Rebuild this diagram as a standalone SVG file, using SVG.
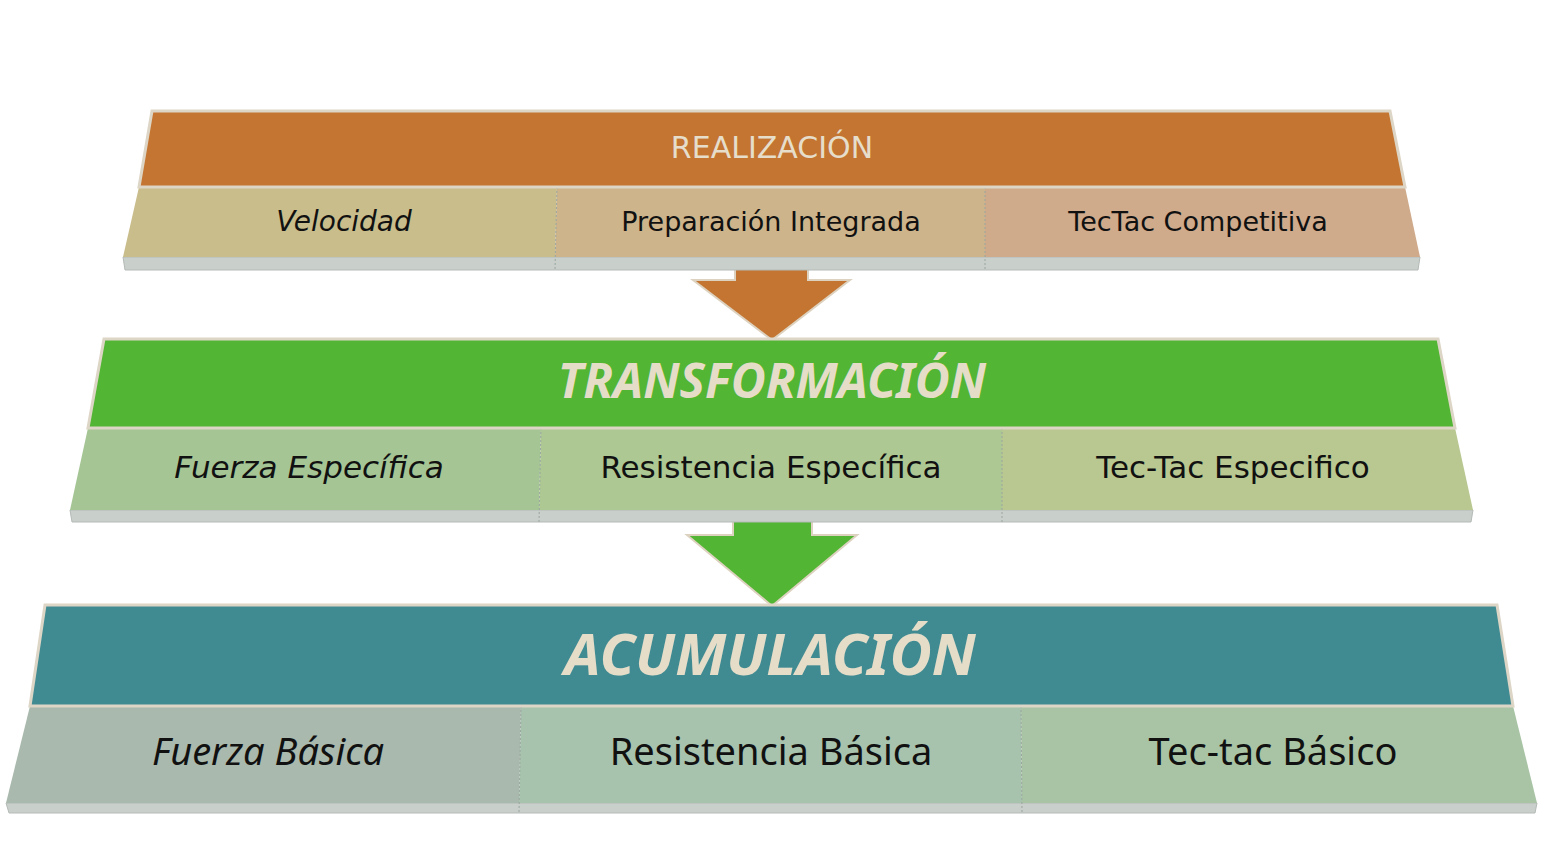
<svg xmlns="http://www.w3.org/2000/svg" width="1543" height="844" viewBox="0 0 1543 844">
<style>
.edge{fill:#c9cfcb;stroke:#b4bab6;stroke-width:1}
.div{stroke:#9aa6a0;stroke-width:1;stroke-dasharray:2 2}
.t{font-family:"DejaVu Sans",sans-serif;fill:#111;text-anchor:middle}
.b{font-family:"Noto Sans","Open Sans",sans-serif;fill:#111;text-anchor:middle}
.h{font-family:"Noto Sans","Open Sans",sans-serif;fill:#e6ddc9;text-anchor:middle;font-weight:bold;font-style:italic}
</style>
<rect width="1543" height="844" fill="#fff"/>
<g id="connectors">
<path d="M735 268 H808 V280 H850 L772 340 L693 280 H735 Z" fill="#c47531" stroke="#ddd2bf" stroke-width="2"/>
<path d="M733 520 H812 V535 H857 L772 606 L687 535 H733 Z" fill="#52b534" stroke="#ddd2bf" stroke-width="2"/>
</g>
<g id="realizacion">
<path d="M123 257 L1420 257 L1418 270 L125 270 Z" class="edge"/>
<path d="M139 187 L557 187 L555 257 L123 257 Z" fill="#c9bd8b"/>
<path d="M557 187 L985 187 L985 257 L555 257 Z" fill="#cdb48b"/>
<path d="M985 187 L1405 187 L1420 257 L985 257 Z" fill="#cfaa8b"/>
<line x1="557" y1="187" x2="555" y2="270" class="div"/><line x1="985" y1="187" x2="985" y2="270" class="div"/>
<path d="M152 111 L1390 111 L1405 187 L139 187 Z" fill="#c47531" stroke="#ddd5c5" stroke-width="3"/>
<text x="772" y="158" font-family="DejaVu Sans,sans-serif" font-size="30" fill="#e6ddcb" text-anchor="middle">REALIZACIÓN</text>
<text x="344" y="231" class="t" font-size="28" font-style="italic">Velocidad</text>
<text x="771" y="231" class="t" font-size="27">Preparación Integrada</text>
<text x="1198" y="231" class="t" font-size="27">TecTac Competitiva</text>
</g>
<g id="transformacion">
<path d="M70 510 L1473 510 L1471 522 L72 522 Z" class="edge"/>
<path d="M88 428 L541 428 L539 510 L70 510 Z" fill="#a5c595"/>
<path d="M541 428 L1002 428 L1002 510 L539 510 Z" fill="#adc893"/>
<path d="M1002 428 L1455 428 L1473 510 L1002 510 Z" fill="#b8c890"/>
<line x1="541" y1="428" x2="539" y2="522" class="div"/><line x1="1002" y1="428" x2="1002" y2="522" class="div"/>
<path d="M104 339 L1438 339 L1455 428 L88 428 Z" fill="#52b534" stroke="#ddd5c5" stroke-width="3"/>
<text x="772" y="398" class="h" font-size="48">TRANSFORMACIÓN</text>
<text x="309" y="478" class="t" font-size="31" font-style="italic">Fuerza Específica</text>
<text x="771" y="478" class="t" font-size="31">Resistencia Específica</text>
<text x="1233" y="478" class="t" font-size="31">Tec-Tac Especifico</text>
</g>
<g id="acumulacion">
<path d="M6 803 L1537 803 L1535 813 L9 813 Z" class="edge"/>
<path d="M30 706 L521 706 L519 803 L6 803 Z" fill="#a9b9ad"/>
<path d="M521 706 L1021 706 L1022 803 L519 803 Z" fill="#a7c2ad"/>
<path d="M1021 706 L1513 706 L1537 803 L1022 803 Z" fill="#a8c4a5"/>
<line x1="521" y1="706" x2="519" y2="813" class="div"/><line x1="1021" y1="706" x2="1022" y2="813" class="div"/>
<path d="M45 605 L1497 605 L1513 706 L30 706 Z" fill="#408b92" stroke="#ddd5c5" stroke-width="3"/>
<text x="770" y="675" class="h" font-size="58">ACUMULACIÓN</text>
<text x="268" y="765" class="b" font-size="38" font-style="italic">Fuerza Básica</text>
<text x="771" y="765" class="b" font-size="38">Resistencia Básica</text>
<text x="1273" y="765" class="b" font-size="38">Tec-tac Básico</text>
</g>
</svg>
